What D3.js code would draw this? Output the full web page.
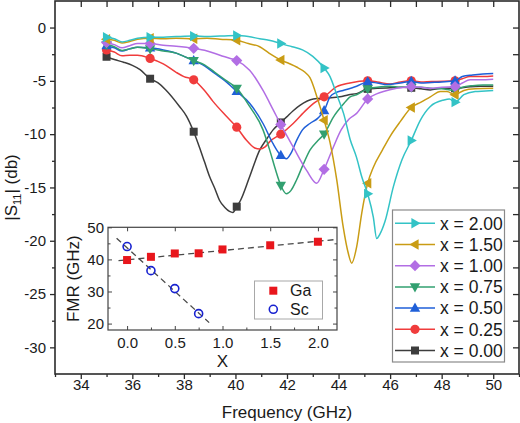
<!DOCTYPE html>
<html>
<head>
<meta charset="utf-8">
<script src="https://cdn.jsdelivr.net/npm/d3@7"></script>
<style>
  body { margin: 0; background: #fff; }
  svg { display: block; font-family: "Liberation Sans", Arial, sans-serif; }
</style>
</head>
<body>
<svg id="chart" width="520" height="423"></svg>
<script>
// ---- data ----
// |S11| (dB) vs frequency (GHz), one array of [freq, dB] per composition
const s000 = [[35.0,-2.74],[35.3,-3.0],[35.66,-3.25],[36.0,-3.55],[36.3,-3.95],[36.69,-4.8],[37.0,-5.2],[37.3,-5.85],[37.83,-7.4],[38.1,-8.3],[38.38,-9.77],[38.6,-11.2],[38.8,-12.6],[39.0,-14.0],[39.2,-15.1],[39.38,-16.2],[39.6,-16.9],[39.77,-17.25],[39.9,-17.35],[40.05,-16.8],[40.2,-16.2],[40.55,-14.0],[40.94,-11.5],[41.2,-10.5],[41.46,-9.6],[41.76,-8.9],[41.98,-8.4],[42.24,-7.8],[42.5,-7.3],[43.02,-6.7],[43.54,-6.6],[44.05,-6.5],[44.4,-6.3],[44.7,-6.2],[45.13,-5.75],[45.5,-5.7],[46.0,-5.65],[46.5,-5.6],[46.82,-5.65],[47.2,-5.75],[47.56,-5.85],[48.0,-5.7],[48.52,-5.7],[49.1,-5.55],[49.5,-5.5],[50.0,-5.5]];
const s025 = [[35.0,-2.1],[35.3,-2.3],[35.6,-2.65],[35.9,-2.6],[36.2,-2.6],[36.69,-2.9],[37.2,-3.4],[37.7,-4.2],[38.0,-4.6],[38.38,-4.9],[38.8,-5.9],[39.12,-6.9],[39.64,-8.3],[40.05,-9.35],[40.42,-10.55],[40.75,-11.3],[40.94,-11.4],[41.15,-11.2],[41.33,-10.7],[41.76,-10.0],[42.24,-9.0],[42.76,-7.7],[43.1,-7.0],[43.44,-6.5],[43.93,-5.55],[44.44,-5.2],[45.13,-5.0],[45.5,-5.1],[46.0,-5.3],[46.4,-5.1],[46.82,-5.0],[47.3,-5.1],[47.8,-5.05],[48.52,-5.0],[48.8,-4.8],[49.1,-4.6],[49.6,-4.6],[50.0,-4.55]];
const s050 = [[35.0,-1.7],[35.3,-1.9],[35.6,-2.2],[35.9,-2.0],[36.2,-1.85],[36.69,-1.9],[37.2,-2.1],[37.7,-2.4],[38.0,-2.7],[38.38,-3.1],[38.8,-3.6],[39.2,-4.3],[39.6,-5.0],[40.05,-6.0],[40.55,-7.1],[41.07,-9.0],[41.46,-10.9],[41.76,-12.0],[41.98,-12.3],[42.15,-11.8],[42.37,-10.6],[42.6,-9.6],[42.89,-9.0],[43.2,-8.5],[43.44,-7.8],[43.67,-6.5],[43.9,-6.1],[44.18,-5.9],[44.7,-5.5],[45.13,-5.1],[45.5,-5.2],[45.9,-5.35],[46.4,-5.2],[46.82,-5.05],[47.2,-5.2],[47.6,-5.15],[48.0,-5.1],[48.52,-5.0],[48.8,-4.6],[49.2,-4.45],[49.6,-4.35],[50.0,-4.3]];
const s075 = [[35.0,-1.6],[35.3,-1.8],[35.6,-2.15],[35.9,-2.0],[36.2,-1.85],[36.69,-2.0],[37.2,-2.2],[37.7,-2.4],[38.0,-2.7],[38.38,-3.1],[38.8,-3.5],[39.2,-4.2],[39.6,-4.9],[40.05,-5.7],[40.55,-7.4],[41.07,-9.6],[41.33,-11.5],[41.55,-13.3],[41.76,-14.8],[41.98,-15.6],[42.15,-15.3],[42.37,-14.3],[42.6,-13.0],[42.89,-11.5],[43.2,-10.6],[43.44,-10.0],[43.8,-8.4],[44.18,-7.2],[44.45,-6.5],[44.7,-6.3],[45.13,-5.75],[45.5,-5.6],[46.0,-5.5],[46.4,-5.6],[46.82,-5.6],[47.2,-5.6],[47.56,-5.7],[48.0,-5.75],[48.52,-5.9],[48.8,-5.6],[49.2,-5.45],[49.6,-5.4],[50.0,-5.4]];
const s100 = [[35.0,-1.4],[35.3,-1.6],[35.6,-1.9],[35.9,-1.7],[36.2,-1.5],[36.69,-1.5],[37.2,-1.65],[37.7,-1.75],[38.38,-1.95],[38.9,-2.2],[39.4,-2.6],[39.8,-2.9],[40.05,-3.1],[40.55,-4.0],[41.07,-5.9],[41.46,-7.7],[41.76,-9.1],[42.24,-11.2],[42.76,-13.4],[43.15,-14.6],[43.44,-13.3],[43.8,-11.2],[44.1,-9.6],[44.4,-8.6],[44.7,-8.05],[45.13,-6.7],[45.5,-6.2],[45.74,-6.0],[46.26,-5.7],[46.82,-5.55],[47.2,-5.6],[47.56,-5.7],[48.0,-5.6],[48.52,-5.55],[48.8,-5.2],[49.1,-4.9],[49.5,-4.9],[50.0,-4.85]];
const s150 = [[35.0,-1.1],[35.3,-1.2],[35.6,-1.45],[35.9,-1.3],[36.2,-1.1],[36.69,-1.0],[37.2,-1.05],[37.7,-1.0],[38.38,-1.05],[38.9,-1.0],[39.4,-1.1],[40.05,-1.2],[40.5,-1.5],[40.94,-1.8],[41.3,-2.4],[41.76,-3.05],[42.1,-3.4],[42.37,-3.7],[42.7,-4.2],[42.89,-4.7],[43.2,-6.8],[43.44,-8.7],[43.67,-10.8],[43.93,-14.3],[44.18,-18.7],[44.38,-21.2],[44.51,-22.1],[44.7,-20.6],[44.9,-17.4],[45.13,-14.6],[45.35,-13.1],[45.7,-11.5],[46.0,-10.2],[46.4,-8.8],[46.82,-7.5],[47.2,-7.0],[47.56,-6.5],[47.95,-6.0],[48.2,-6.0],[48.52,-6.3],[48.86,-5.9],[49.3,-5.75],[50.0,-5.7]];
const s200 = [[35.0,-0.9],[35.3,-1.05],[35.6,-1.35],[35.9,-1.2],[36.2,-1.0],[36.69,-0.9],[37.2,-0.9],[37.7,-0.85],[38.38,-0.8],[38.9,-0.85],[39.4,-0.8],[40.05,-0.75],[40.5,-0.85],[40.94,-1.05],[41.3,-1.2],[41.76,-1.5],[42.2,-1.8],[42.6,-2.1],[43.0,-2.7],[43.44,-3.8],[43.67,-4.6],[43.93,-6.3],[44.2,-8.1],[44.45,-10.5],[44.7,-12.2],[44.9,-14.0],[45.13,-15.6],[45.35,-17.8],[45.48,-19.8],[45.6,-19.4],[45.8,-18.2],[46.13,-14.9],[46.46,-12.4],[46.82,-10.6],[47.17,-8.7],[47.56,-7.4],[48.08,-6.8],[48.3,-6.7],[48.52,-7.0],[48.86,-6.3],[49.3,-6.0],[49.7,-5.95],[50.0,-5.9]];

const compositions = [0.00, 0.25, 0.50, 0.75, 1.00, 1.50, 2.00];
const markerFreqs = [35.0, 36.69, 38.38, 40.05, 41.76, 43.44, 45.13, 46.82, 48.52];

// inset: FMR frequency vs doping level
const gaX = [0, 0.25, 0.5, 0.75, 1.0, 1.5, 2.0];
const gaFMR = [39.8, 40.8, 41.85, 41.9, 43.1, 44.4, 45.5];
const scX = [0, 0.25, 0.5, 0.75];
const scFMR = [44.0, 36.5, 30.9, 23.1];
const gaFitX = [-0.09, 2.19];
const gaFitY = [39.6, 46.2];
const scFitX = [-0.11, 0.86];
const scFitY = [46.6, 20.3];

const xTicks = d3.range(34, 51, 2);
const xMinor = d3.range(33, 52, 2);
const yTicks = [0, -5, -10, -15, -20, -25, -30];
const yMinor = [2.5, -2.5, -7.5, -12.5, -17.5, -22.5, -27.5, -32.5];

// ---- styles ----
const curves = [s000, s025, s050, s075, s100, s150, s200];
const colors = ['#3d3d3d', '#f03c3c', '#1f5fd8', '#32a070', '#b26ee4', '#c99c14', '#33c3c6'];
const shapes = ['square', 'circle', 'up', 'down', 'diamond', 'left', 'right'];

const shapePath = {
  square: 'M-4,-4H4V4H-4Z',
  circle: 'M4.6,0A4.6,4.6 0 1 1 -4.6,0A4.6,4.6 0 1 1 4.6,0Z',
  up: 'M0,-5.6L5.2,3.6L-5.2,3.6Z',
  down: 'M0,5.6L5.2,-3.6L-5.2,-3.6Z',
  right: 'M5.6,0L-3.6,-5.2L-3.6,5.2Z',
  left: 'M-5.6,0L3.6,-5.2L3.6,5.2Z',
  diamond: 'M0,-5.6L5.6,0L0,5.6L-5.6,0Z'
};

const svg = d3.select('#chart');
const W = 520, H = 423;
const plot = { left: 55, right: 519, top: 1, bottom: 374 };

const x = d3.scaleLinear().domain([33, 51]).range([plot.left, plot.right]);
const y = d3.scaleLinear().domain([-32.5, 2.5]).range([plot.bottom, 0.9]);

svg.append('rect').attr('width', W).attr('height', H).attr('fill', '#fff');

const axisColor = '#2b2b2b';
const styleAxis = (g) => {
  g.select('.domain').remove();
  g.selectAll('line').attr('stroke', axisColor).attr('stroke-width', 1.3);
  g.selectAll('text').attr('fill', '#1a1a1a').attr('font-size', 15);
};

// bottom / left with labels (ticks out)
svg.append('g').attr('transform', `translate(0,${plot.bottom})`)
  .call(d3.axisBottom(x).tickValues(xTicks).tickSize(5).tickPadding(0).tickFormat(d3.format('d')))
  .call(styleAxis);
svg.append('g').attr('transform', `translate(0,${plot.bottom})`)
  .call(d3.axisBottom(x).tickValues(xMinor).tickSize(3).tickFormat(''))
  .call(styleAxis);
svg.append('g').attr('transform', `translate(${plot.left},0)`)
  .call(d3.axisLeft(y).tickValues(yTicks).tickSize(5).tickPadding(4).tickFormat((d) => String(d)))
  .call(styleAxis);
svg.append('g').attr('transform', `translate(${plot.left},0)`)
  .call(d3.axisLeft(y).tickValues(yMinor.filter((d) => d > -32.5 && d < 2.5)).tickSize(3).tickFormat(''))
  .call(styleAxis);
// top / right mirrored (ticks in)
svg.append('g').attr('transform', `translate(0,${plot.top})`)
  .call(d3.axisTop(x).tickValues(xTicks.concat(xMinor.slice(1, -1))).tickSize(-6).tickFormat(''))
  .call(styleAxis);
svg.append('g').attr('transform', `translate(${plot.right},0)`)
  .call(d3.axisRight(y).tickValues(yTicks.concat(yMinor.slice(1, -1))).tickSize(-6).tickFormat(''))
  .call(styleAxis);

svg.append('rect')
  .attr('x', plot.left).attr('y', plot.top)
  .attr('width', plot.right - plot.left).attr('height', plot.bottom - plot.top)
  .attr('fill', 'none').attr('stroke', axisColor).attr('stroke-width', 1.6);

// axis titles
svg.append('text')
  .attr('x', (plot.left + plot.right) / 2).attr('y', 418)
  .attr('text-anchor', 'middle').attr('font-size', 17).attr('fill', '#1a1a1a')
  .text('Frequency (GHz)');

const yTitle = svg.append('text')
  .attr('transform', `translate(17,${(plot.top + plot.bottom) / 2}) rotate(-90)`)
  .attr('text-anchor', 'middle').attr('font-size', 17).attr('fill', '#1a1a1a');
yTitle.append('tspan').text('|S');
yTitle.append('tspan').attr('font-size', 11).attr('dy', 4).text('11');
yTitle.append('tspan').attr('dy', -4).text('| (db)');

// ---- curves ----
const line = d3.line().x((d) => x(d[0])).y((d) => y(d[1])).curve(d3.curveMonotoneX);
const isMarker = (f) => markerFreqs.some((m) => Math.abs(m - f) < 0.005);

const curveG = svg.append('g');
curves.forEach((data, i) => {
  const g = curveG.append('g');
  g.append('path')
    .attr('d', line(data))
    .attr('fill', 'none')
    .attr('stroke', colors[i])
    .attr('stroke-width', 1.5)
    .attr('stroke-linejoin', 'round');
  g.selectAll('path.mk')
    .data(data.filter((d) => isMarker(d[0])))
    .join('path')
    .attr('class', 'mk')
    .attr('transform', (d) => `translate(${x(d[0])},${y(d[1])})`)
    .attr('d', shapePath[shapes[i]])
    .attr('fill', colors[i]);
});

// ---- legend ----
const leg = svg.append('g');
leg.append('rect')
  .attr('x', 392.5).attr('y', 210).attr('width', 112).attr('height', 152)
  .attr('fill', '#fff').attr('stroke', '#8a8a8a').attr('stroke-width', 1.2);
const legOrder = d3.range(compositions.length).reverse();
legOrder.forEach((i, k) => {
  const cy = 223.3 + k * 21.2;
  leg.append('line')
    .attr('x1', 395).attr('x2', 435).attr('y1', cy).attr('y2', cy)
    .attr('stroke', colors[i]).attr('stroke-width', 1.5);
  leg.append('path')
    .attr('transform', `translate(415,${cy})`)
    .attr('d', shapePath[shapes[i]]).attr('fill', colors[i]);
  leg.append('text')
    .attr('x', 440).attr('y', cy).attr('dy', '0.36em')
    .attr('font-size', 17.5).attr('fill', '#1a1a1a')
    .text(`x = ${compositions[i].toFixed(2)}`);
});

// ---- inset ----
const inset = { left: 108, right: 337, top: 227.3, bottom: 330 };
const xi = d3.scaleLinear().domain([-0.2, 2.2]).range([inset.left, inset.right]);
const yi = d3.scaleLinear().domain([18, 50]).range([inset.bottom, inset.top]);

const ig = svg.append('g');
ig.append('rect')
  .attr('x', inset.left).attr('y', inset.top)
  .attr('width', inset.right - inset.left).attr('height', inset.bottom - inset.top)
  .attr('fill', '#fff');

const styleInset = (g) => {
  g.select('.domain').remove();
  g.selectAll('line').attr('stroke', '#444').attr('stroke-width', 1);
  g.selectAll('text').attr('fill', '#1a1a1a').attr('font-size', 15);
};
const xiMajor = [0, 0.5, 1.0, 1.5, 2.0];
const xiMinor = [-0.25, 0.25, 0.75, 1.25, 1.75];
const yiMajor = [20, 30, 40, 50];
const yiMinor = [25, 35, 45];

ig.append('g').attr('transform', `translate(0,${inset.bottom})`)
  .call(d3.axisBottom(xi).tickValues(xiMajor).tickSize(-4).tickPadding(7).tickFormat(d3.format('.1f')))
  .call(styleInset);
ig.append('g').attr('transform', `translate(0,${inset.bottom})`)
  .call(d3.axisBottom(xi).tickValues(xiMinor.filter((d) => d > -0.2)).tickSize(-2.5).tickFormat(''))
  .call(styleInset);
ig.append('g').attr('transform', `translate(${inset.left},0)`)
  .call(d3.axisLeft(yi).tickValues(yiMajor).tickSize(-4).tickPadding(4).tickFormat(d3.format('d')))
  .call(styleInset);
ig.append('g').attr('transform', `translate(${inset.left},0)`)
  .call(d3.axisLeft(yi).tickValues(yiMinor).tickSize(-2.5).tickFormat(''))
  .call(styleInset);
ig.append('g').attr('transform', `translate(0,${inset.top})`)
  .call(d3.axisTop(xi).tickValues(xiMajor).tickSize(-4).tickFormat(''))
  .call(styleInset);
ig.append('g').attr('transform', `translate(${inset.right},0)`)
  .call(d3.axisRight(yi).tickValues(yiMajor).tickSize(-4).tickFormat(''))
  .call(styleInset);
ig.append('g').attr('transform', `translate(${inset.right},0)`)
  .call(d3.axisRight(yi).tickValues(yiMinor).tickSize(-2.5).tickFormat(''))
  .call(styleInset);

ig.append('rect')
  .attr('x', inset.left).attr('y', inset.top)
  .attr('width', inset.right - inset.left).attr('height', inset.bottom - inset.top)
  .attr('fill', 'none').attr('stroke', '#444').attr('stroke-width', 1.2);

// fit lines
const fitLine = d3.line().x((d) => xi(d[0])).y((d) => yi(d[1]));
[[gaFitX, gaFitY], [scFitX, scFitY]].forEach(([fx, fy]) => {
  ig.append('path')
    .attr('d', fitLine(d3.zip(fx, fy)))
    .attr('fill', 'none').attr('stroke', '#4a4a4a')
    .attr('stroke-width', 1.3).attr('stroke-dasharray', '6,4');
});

ig.selectAll('rect.ga')
  .data(d3.zip(gaX, gaFMR))
  .join('rect')
  .attr('class', 'ga')
  .attr('x', (d) => xi(d[0]) - 4).attr('y', (d) => yi(d[1]) - 4)
  .attr('width', 8).attr('height', 8)
  .attr('fill', '#e8161c');

ig.selectAll('circle.sc')
  .data(d3.zip(scX, scFMR))
  .join('circle')
  .attr('class', 'sc')
  .attr('cx', (d) => xi(d[0])).attr('cy', (d) => yi(d[1]))
  .attr('r', 4).attr('fill', 'none')
  .attr('stroke', '#1822d0').attr('stroke-width', 1.6);

// inset titles
ig.append('text')
  .attr('x', (inset.left + inset.right) / 2).attr('y', 367)
  .attr('text-anchor', 'middle').attr('font-size', 17).attr('fill', '#1a1a1a')
  .text('X');
ig.append('text')
  .attr('transform', `translate(79,${(inset.top + inset.bottom) / 2}) rotate(-90)`)
  .attr('text-anchor', 'middle').attr('font-size', 17).attr('fill', '#1a1a1a')
  .text('FMR (GHz)');

// inset legend
ig.append('rect')
  .attr('x', 254.5).attr('y', 281).attr('width', 68).attr('height', 38)
  .attr('fill', '#fff').attr('stroke', '#a8a8a8').attr('stroke-width', 1);
ig.append('rect')
  .attr('x', 273.3 - 4).attr('y', 290.7 - 4).attr('width', 8).attr('height', 8)
  .attr('fill', '#e8161c');
ig.append('circle')
  .attr('cx', 273.3).attr('cy', 309.3).attr('r', 4)
  .attr('fill', 'none').attr('stroke', '#1822d0').attr('stroke-width', 1.6);
[['Ga', 290.7], ['Sc', 309.3]].forEach(([t, cy]) => {
  ig.append('text')
    .attr('x', 290).attr('y', cy).attr('dy', '0.36em')
    .attr('font-size', 16).attr('fill', '#1a1a1a')
    .text(t);
});
</script>
</body>
</html>
